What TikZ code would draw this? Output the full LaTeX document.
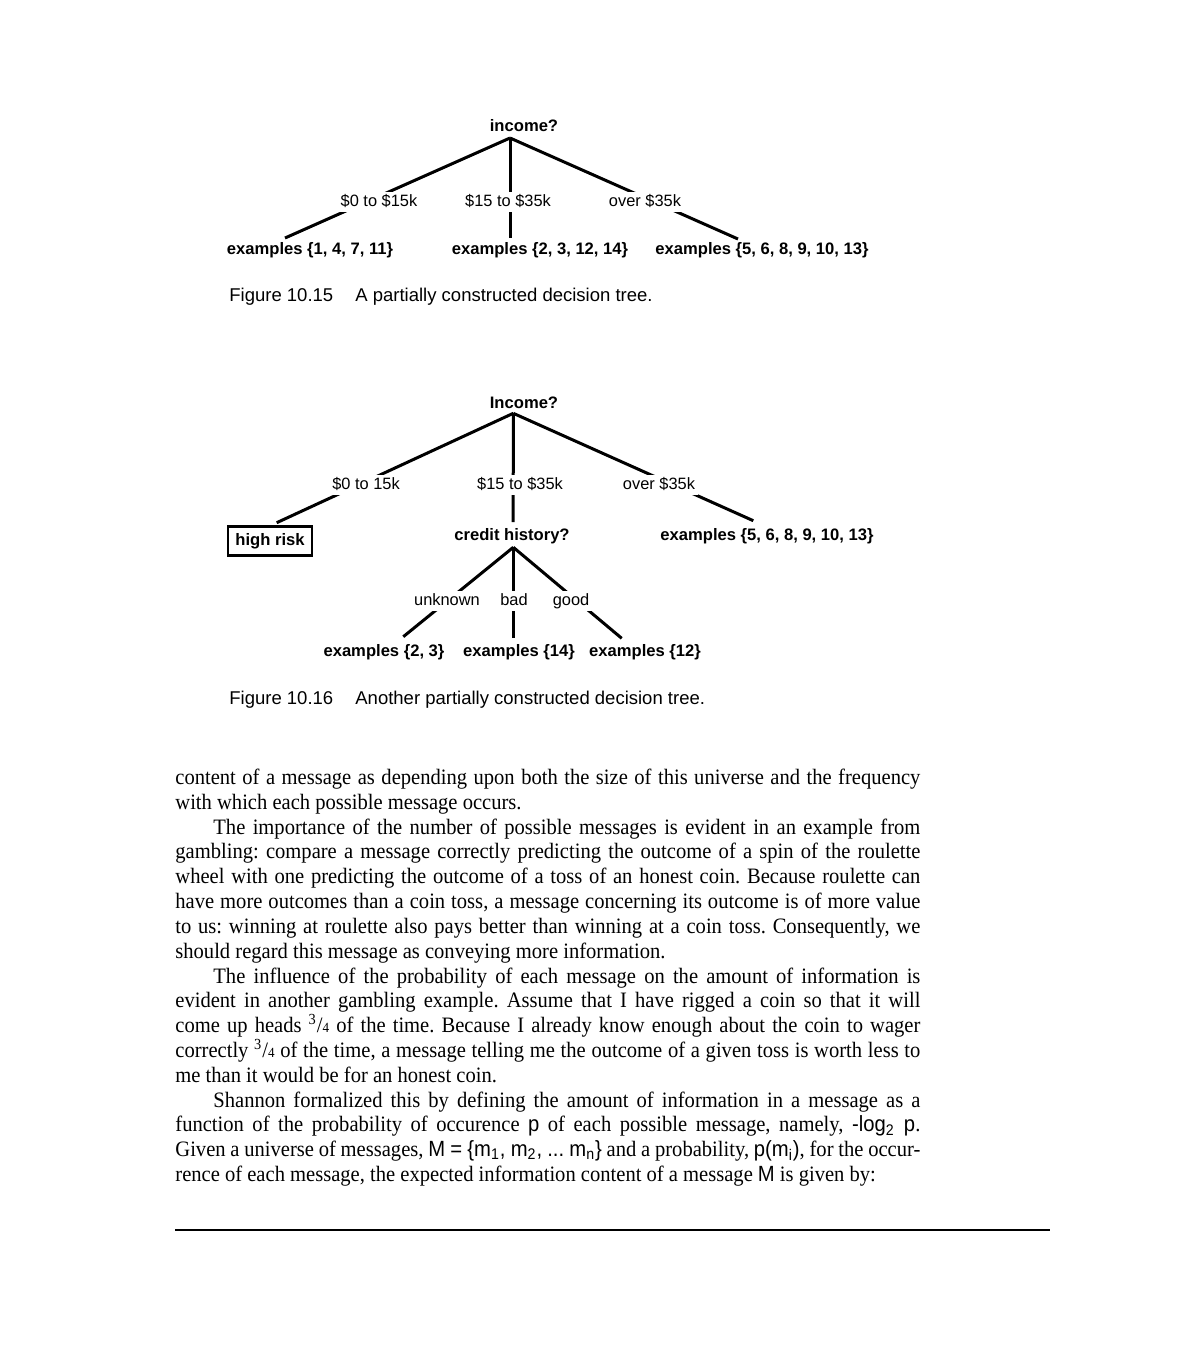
\documentclass[tikz,border=0pt]{standalone}
\usepackage{fontspec}
\setmainfont{Liberation Serif}[FakeStretch=0.935]
\newfontfamily\dsans{Liberation Sans}
\newfontfamily\msans{Liberation Sans}[FakeStretch=0.92]
\newcommand\jline[1]{\makebox[372.5pt][s]{#1}}
\newcommand\tq{\textsuperscript{3}/{\scriptsize 4}}
\frenchspacing
\tikzset{
  nlab/.style={font=\dsans\bfseries\fontsize{8.3}{10}\selectfont, inner sep=0pt},
  elab/.style={font=\dsans\fontsize{8.2}{10}\selectfont, fill=white, inner xsep=1.5pt, inner ysep=1.2pt, text height=6pt, text depth=1.6pt},
  tedge/.style={line width=1.5pt},
  riskbox/.style={nlab, draw, line width=1.3pt, minimum width=42pt, minimum height=14.5pt},
  figcap/.style={font=\dsans\fontsize{9.25}{11}\selectfont, anchor=west, inner sep=0pt},
  body/.style={anchor=base west, inner sep=0pt, font=\fontsize{11}{13}\selectfont\frenchspacing},
}
\begin{document}
\begin{tikzpicture}[x=0.5pt,y=-0.5pt]
\useasboundingbox[fill=white] (0,0) rectangle (1200,1361);

% ---------- Figure 10.15 ----------
\node[nlab] (inc1) at (524,126) {income?};
\node[nlab] (e1a) at (310,250) {examples \{1, 4, 7, 11\}};
\node[nlab] (e1b) at (540,250) {examples \{2, 3, 12, 14\}};
\node[nlab] (e1c) at (762,250) {examples \{5, 6, 8, 9, 10, 13\}};
\draw[tedge] ([xshift=-7pt,yshift=-6pt]inc1.center) -- ([xshift=-12.5pt,yshift=6pt]e1a.center);
\draw[tedge] ([xshift=-7pt,yshift=-6pt]inc1.center) -- ([xshift=-15pt,yshift=6pt]e1b.center);
\draw[tedge] ([xshift=-7pt,yshift=-6pt]inc1.center) -- ([xshift=-12pt,yshift=5.5pt]e1c.center);
\node[elab] (l1a) at (379,202) {\$0 to \$15k};
\node[elab] (l1b) at (508,202) {\$15 to \$35k};
\node[elab] (l1c) at (645,202) {over \$35k};
\node[figcap] (c1n) at (229,297) {Figure 10.15};
\node[figcap] (c1t) at (355,297) {A partially constructed decision tree.};

% ---------- Figure 10.16 ----------
\node[nlab] (inc2) at (524,403) {Income?};
\node[riskbox] (hr) at (270,541) {high risk};
\node[nlab] (ch) at (512,536) {credit history?};
\node[nlab] (e2c) at (767,536) {examples \{5, 6, 8, 9, 10, 13\}};
\draw[tedge] ([xshift=-5.35pt,yshift=-5.15pt]inc2.center) -- ([xshift=3.35pt,yshift=9.15pt]hr.center);
\draw[tedge] ([xshift=-5.35pt,yshift=-5.15pt]inc2.center) -- ([xshift=0.6pt,yshift=7pt]ch.center);
\draw[tedge] ([xshift=-5.35pt,yshift=-5.15pt]inc2.center) -- ([xshift=-6.85pt,yshift=7.65pt]e2c.center);
\node[elab] (l2a) at (366,485) {\$0 to 15k};
\node[elab] (l2b) at (520,485) {\$15 to \$35k};
\node[elab] (l2c) at (659,485) {over \$35k};

\node[nlab] (e3a) at (384,652) {examples \{2, 3\}};
\node[nlab] (e3b) at (519,652) {examples \{14\}};
\node[nlab] (e3c) at (645,652) {examples \{12\}};
\draw[tedge] ([xshift=0.65pt,yshift=-5.65pt]ch.center) -- ([xshift=9.65pt,yshift=7.65pt]e3a.center);
\draw[tedge] ([xshift=0.65pt,yshift=-5.65pt]ch.center) -- ([xshift=-2.85pt,yshift=7pt]e3b.center);
\draw[tedge] ([xshift=0.65pt,yshift=-5.65pt]ch.center) -- ([xshift=-11.65pt,yshift=6.85pt]e3c.center);
\node[elab] (l3a) at (447,601) {unknown};
\node[elab] (l3b) at (514,601) {bad};
\node[elab] (l3c) at (571,601) {good};
\node[figcap] (c2n) at (229,700) {Figure 10.16};
\node[figcap] (c2t) at (355,700) {Another partially constructed decision tree.};

% ---------- body text ----------
\node[body] (t01) at (175,784.5) {\jline{content of a message as depending upon both the size of this universe and the frequency}};
\node[body] (t02) at (175,809.3) {with which each possible message occurs.};
\node[body] (t03) at (213,834.1) {\makebox[353.5pt][s]{The importance of the number of possible messages is evident in an example from}};
\node[body] (t04) at (175,858.9) {\jline{gambling: compare a message correctly predicting the outcome of a spin of the roulette}};
\node[body] (t05) at (175,883.7) {\jline{wheel with one predicting the outcome of a toss of an honest coin. Because roulette can}};
\node[body] (t06) at (175,908.6) {\jline{have more outcomes than a coin toss, a message concerning its outcome is of more value}};
\node[body] (t07) at (175,933.4) {\jline{to us: winning at roulette also pays better than winning at a coin toss. Consequently, we}};
\node[body] (t08) at (175,958.2) {should regard this message as conveying more information.};
\node[body] (t09) at (213,983.0) {\makebox[353.5pt][s]{The influence of the probability of each message on the amount of information is}};
\node[body] (t10) at (175,1007.8) {\jline{evident in another gambling example. Assume that I have rigged a coin so that it will}};
\node[body] (t11) at (175,1032.6) {\jline{come up heads \tq{} of the time. Because I already know enough about the coin to wager}};
\node[body] (t12) at (175,1057.4) {\jline{correctly \tq{} of the time, a message telling me the outcome of a given toss is worth less to}};
\node[body] (t13) at (175,1082.2) {me than it would be for an honest coin.};
\node[body] (t14) at (213,1107.0) {\makebox[353.5pt][s]{Shannon formalized this by defining the amount of information in a message as a}};
\node[body] (t15) at (175,1131.8) {\jline{function of the probability of occurence {\msans p} of each possible message, namely, {\msans -log\textsubscript{2} p}.}};
\node[body] (t16) at (175,1156.7) {\jline{Given a universe of messages, {\msans M = \{m\textsubscript{1}, m\textsubscript{2}, ... m\textsubscript{n}\}} and a probability, {\msans p(m\textsubscript{i})}, for the occur-}};
\node[body] (t17) at (175,1181.5) {rence of each message, the expected information content of a message {\msans M} is given by:};

\draw[line width=0.6pt] (175,1230) -- (1050,1230);
\end{tikzpicture}
\end{document}
